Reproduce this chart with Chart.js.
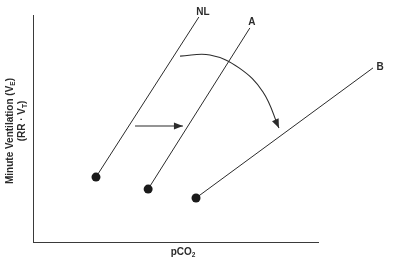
<!DOCTYPE html>
<html>
<head>
<meta charset="utf-8">
<script src="https://cdn.jsdelivr.net/npm/chart.js@4/dist/chart.umd.min.js"></script>
<style>
  html, body { margin: 0; padding: 0; background: #fff; }
  #wrap { width: 400px; height: 262px; }
</style>
</head>
<body>
<div id="wrap"><canvas id="chart" width="400" height="262"></canvas></div>
<script>
// Curve names and their end points (pCO2 on x, ventilation on y, arbitrary 0-100 units)
const curveNames = ['NL', 'A', 'B'];
const nlX = [22.1, 58.2];
const nlY = [28.6, 99.1];
const aX = [40.4, 76.1];
const aY = [23.3, 94.3];
const bX = [57.2, 119.3];
const bY = [19.4, 76.7];

// Arrows
const shiftX = [35.8, 52.6];
const shiftY = [51.1, 51.1];
const arcX = [51.6, 62.1, 72.3, 80.7, 86.3];
const arcY = [81.9, 82.4, 76.7, 66.1, 50.2];

// Axis titles
const xTitle = [['pCO', false], ['2', true]];
const yTitle1 = [['Minute Ventilation (V', false], ['E', true], [')', false]];
const yTitle2 = [['(RR \u00b7 V', false], ['T', true], [')', false]];

const ink = '#2b2b2b';

function toPoints(xs, ys) {
    return xs.map((x, i) => ({ x: x, y: ys[i] }));
}

function curve(label, xs, ys) {
    return {
        label: label,
        data: toPoints(xs, ys),
        borderColor: ink,
        borderWidth: 1,
        pointRadius: [4.5, 0],
        pointBackgroundColor: '#1a1a1a',
        pointBorderWidth: 0,
        tension: 0,
        clip: false
    };
}

function arrow(label, xs, ys, tension) {
    return {
        label: label,
        data: toPoints(xs, ys),
        borderColor: ink,
        borderWidth: 1.1,
        pointRadius: 0,
        tension: tension,
        clip: false,
        isArrow: true
    };
}

// draw a run of text with subscripts, left aligned at x
function textRun(ctx, parts, x, y, size) {
    let cx = x;
    parts.forEach(([t, sub]) => {
        ctx.font = 'bold ' + (sub ? size * 0.65 : size) + 'px "Liberation Sans", Arial, sans-serif';
        ctx.fillText(t, cx, sub ? y + size * 0.3 : y);
        cx += ctx.measureText(t).width;
    });
}

function runWidth(ctx, parts, size) {
    let w = 0;
    parts.forEach(([t, sub]) => {
        ctx.font = 'bold ' + (sub ? size * 0.65 : size) + 'px "Liberation Sans", Arial, sans-serif';
        w += ctx.measureText(t).width;
    });
    return w;
}

const decorations = {
    id: 'decorations',
    afterDatasetsDraw(chart) {
        const ctx = chart.ctx;
        const xs = chart.scales.x, ys = chart.scales.y;
        ctx.save();
        ctx.fillStyle = ink;

        // arrowheads on the arrow datasets
        chart.data.datasets.forEach((ds, i) => {
            if (!ds.isArrow) return;
            const pts = chart.getDatasetMeta(i).data;
            const tip = pts[pts.length - 1];
            const prev = pts[pts.length - 2];
            const ang = Math.atan2(tip.y - prev.y, tip.x - prev.x);
            const len = 9, half = 3.6;
            ctx.beginPath();
            ctx.moveTo(tip.x, tip.y);
            ctx.lineTo(tip.x - len * Math.cos(ang) + half * Math.sin(ang),
                       tip.y - len * Math.sin(ang) - half * Math.cos(ang));
            ctx.lineTo(tip.x - len * Math.cos(ang) - half * Math.sin(ang),
                       tip.y - len * Math.sin(ang) + half * Math.cos(ang));
            ctx.closePath();
            ctx.fill();
        });

        // curve names at the upper end of each line
        const ends = [[nlX[1], nlY[1], 4, -5], [aX[1], aY[1], 2, -6], [bX[1], bY[1], 7, -1]];
        ctx.font = 'bold 10px "Liberation Sans", Arial, sans-serif';
        ctx.textAlign = 'center';
        ctx.textBaseline = 'middle';
        ends.forEach(([x, y, dx, dy], i) => {
            ctx.fillText(curveNames[i], xs.getPixelForValue(x) + dx, ys.getPixelForValue(y) + dy);
        });

        // axis titles
        ctx.textAlign = 'left';
        ctx.textBaseline = 'middle';
        const xw = runWidth(ctx, xTitle, 10);
        textRun(ctx, xTitle, 183 - xw / 2, 252, 10);

        ctx.translate(10, 131);
        ctx.rotate(-Math.PI / 2);
        const w1 = runWidth(ctx, yTitle1, 10);
        textRun(ctx, yTitle1, -w1 / 2, 0, 10);
        ctx.translate(10, 12);
        const w2 = runWidth(ctx, yTitle2, 10);
        textRun(ctx, yTitle2, -w2 / 2, 0, 10);
        ctx.restore();
    }
};

const axisOpts = {
    type: 'linear',
    min: 0,
    max: 100,
    grid: { display: false, drawTicks: false },
    ticks: { display: false },
    border: { display: true, color: '#3a3a3a', width: 1 }
};

new Chart(document.getElementById('chart'), {
    type: 'line',
    data: {
        datasets: [
            curve(curveNames[0], nlX, nlY),
            curve(curveNames[1], aX, aY),
            curve(curveNames[2], bX, bY),
            arrow('shift', shiftX, shiftY, 0),
            arrow('arc', arcX, arcY, 0.4)
        ]
    },
    options: {
        responsive: false,
        animation: false,
        layout: { padding: { left: 33, top: 15, right: 82, bottom: 20 } },
        plugins: { legend: { display: false }, tooltip: { enabled: false } },
        scales: { x: axisOpts, y: axisOpts }
    },
    plugins: [decorations]
});
</script>
</body>
</html>
